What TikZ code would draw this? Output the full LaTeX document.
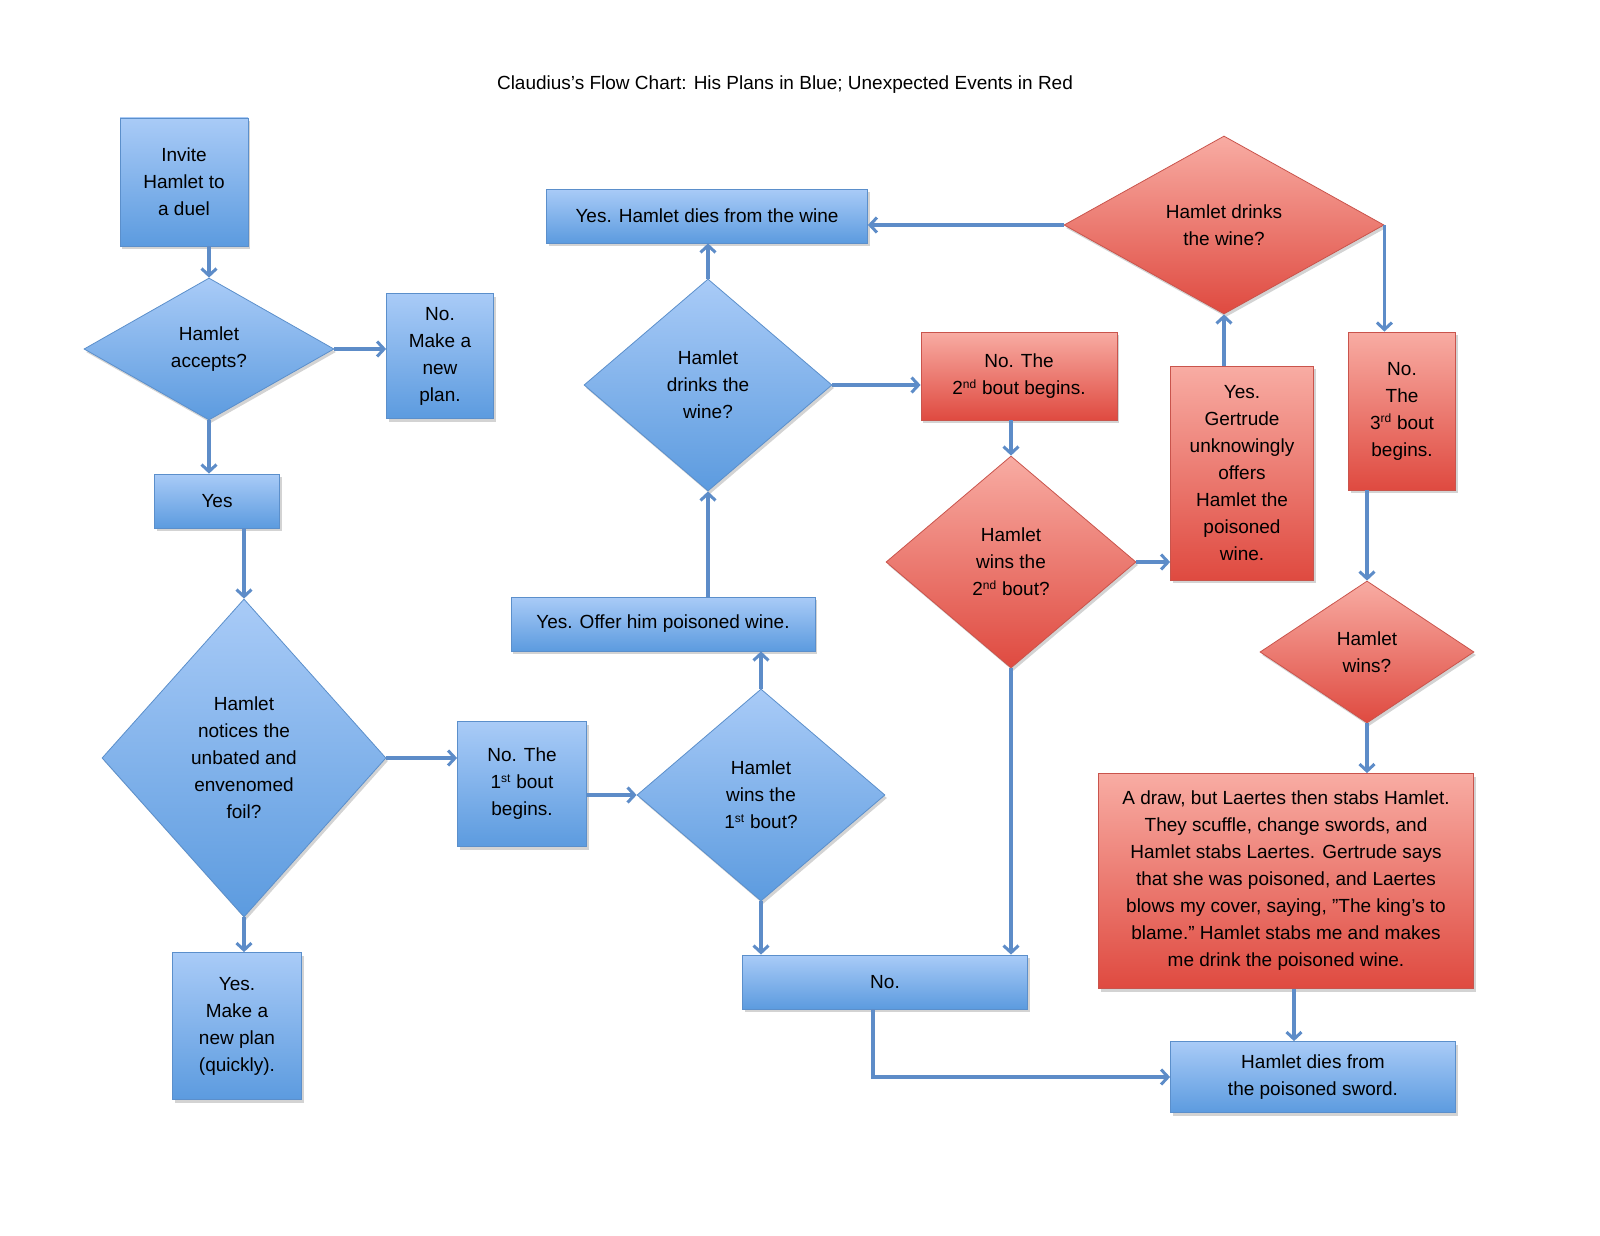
\documentclass[tikz,border=0pt]{standalone}
\usepackage{fontspec}
\setmainfont{Liberation Sans}
\usetikzlibrary{shapes.geometric,arrows.meta,shadows}
\definecolor{btop}{HTML}{A9CBF7}\definecolor{bbot}{HTML}{5C9BDF}\definecolor{bdr}{HTML}{5B8FCB}
\definecolor{rtop}{HTML}{F8ACA3}\definecolor{rbot}{HTML}{DF4A40}\definecolor{rdr}{HTML}{C9544C}
\definecolor{arr}{HTML}{5D8CC8}
\tikzset{
 x=1pt,y=-1pt,
 base/.style={font=\fontsize{19}{27}\selectfont,align=center,inner sep=0pt,
   drop shadow={shadow xshift=2pt,shadow yshift=-3pt,opacity=.35}},
 brect/.style={base,rectangle,draw=bdr,line width=.8pt,top color=btop,bottom color=bbot},
 rrect/.style={base,rectangle,draw=rdr,line width=.8pt,top color=rtop,bottom color=rbot},
 bdia/.style={base,diamond,draw=bdr,line width=.8pt,top color=btop,bottom color=bbot},
 rdia/.style={base,diamond,draw=rdr,line width=.8pt,top color=rtop,bottom color=rbot},
 txt/.style={font=\fontsize{19}{27}\selectfont,align=center,inner sep=0pt},
 ar/.style={draw=arr,line width=3.2pt,-{Straight Barb[length=7pt,width=15pt,line width=3pt]}},
}
\newcommand{\sps}[1]{\textsuperscript{\fontsize{12}{12}\selectfont #1}}
\begin{document}
\begin{tikzpicture}
\useasboundingbox (0,0) rectangle (1600,1236);
\node[txt] (title) at (785,85) {Claudius's Flow Chart: His Plans in Blue; Unexpected Events in Red};
% blue boxes
\node[brect,minimum width=128,minimum height=128] (inv) at (184,182) {Invite\\Hamlet to\\a duel};
\node[brect,minimum width=107,minimum height=125] (nomk) at (440,356) {No.\\Make a\\new\\plan.};
\node[brect,minimum width=125,minimum height=54] (yes1) at (217,501) {Yes};
\node[brect,minimum width=129,minimum height=147] (yq) at (237,1026) {Yes.\\Make a\\new plan\\(quickly).};
\node[brect,minimum width=129,minimum height=125] (n1) at (522,784) {No. The\\1\sps{st} bout\\begins.};
\node[brect,minimum width=304,minimum height=54] (off) at (663,624) {Yes. Offer him poisoned wine.};
\node[brect,minimum width=321,minimum height=54] (dw) at (707,216) {Yes. Hamlet dies from the wine};
\node[brect,minimum width=285,minimum height=54] (no) at (885,982) {No.};
\node[brect,minimum width=285,minimum height=71] (ds) at (1313,1077) {Hamlet dies from\\the poisoned sword.};
% red boxes
\node[rrect,minimum width=196,minimum height=88] (n2) at (1019,376) {No. The\\2\sps{nd} bout begins.};
\node[rrect,minimum width=143,minimum height=214] (ger) at (1242,473) {Yes.\\Gertrude\\unknowingly\\offers\\Hamlet the\\poisoned\\wine.};
\node[rrect,minimum width=107,minimum height=158] (n3) at (1402,411) {No.\\The\\3\sps{rd} bout\\begins.};
\node[rrect,minimum width=375,minimum height=215] (dr) at (1286,881) {A draw, but Laertes then stabs Hamlet.\\They scuffle, change swords, and\\Hamlet stabs Laertes. Gertrude says\\that she was poisoned, and Laertes\\blows my cover, saying, "The king's to\\blame." Hamlet stabs me and makes\\me drink the poisoned wine.};
% diamonds
\node[bdia,minimum width=250,minimum height=142] (acc) at (209,349) {};
\node[txt] at (acc) {Hamlet\\accepts?};
\node[bdia,minimum width=284,minimum height=318] (not) at (244,758) {};
\node[txt] at (not) {Hamlet\\notices the\\unbated and\\envenomed\\foil?};
\node[bdia,minimum width=248,minimum height=212] (w1) at (761,795) {};
\node[txt] at (w1) {Hamlet\\wins the\\1\sps{st} bout?};
\node[bdia,minimum width=248,minimum height=212] (d1) at (708,385) {};
\node[txt] at (d1) {Hamlet\\drinks\ the\\wine?};
\node[rdia,minimum width=250,minimum height=212] (w2) at (1011,562) {};
\node[txt] at (w2) {Hamlet\\wins the\\2\sps{nd} bout?};
\node[rdia,minimum width=320,minimum height=178] (d2) at (1224,225) {};
\node[txt] at (d2) {Hamlet drinks\\the wine?};
\node[rdia,minimum width=214,minimum height=142] (w3) at (1367,652) {};
\node[txt] at (w3) {Hamlet\\wins?};
% arrows
\draw[ar] (inv.south -| acc.north) -- (acc.north);
\draw[ar] (acc.east) -- (acc.east -| nomk.west);
\draw[ar] (acc.south) -- (acc.south |- yes1.north);
\draw[ar] (yes1.south -| not.north) -- (not.north);
\draw[ar] (not.east) -- (not.east -| n1.west);
\draw[ar] (not.south) -- (yq.north -| not.south);
\draw[ar] (n1.east |- w1.west) -- (w1.west);
\draw[ar] (w1.north) -- (off.south -| w1.north);
\draw[ar] (off.north -| d1.south) -- (d1.south);
\draw[ar] (d1.north) -- (dw.south -| d1.north);
\draw[ar] (d1.east) -- (d1.east -| n2.west);
\draw[ar] (n2.south -| w2.north) -- (w2.north);
\draw[ar] (w2.east) -- (w2.east -| ger.west);
\draw[ar] (ger.north -| d2.south) -- (d2.south);
\draw[ar] (d2.west) -- (d2.west -| dw.east);
\draw[ar] (d2.east) -- (d2.east |- n3.north);
\draw[ar] (n3.south -| w3.north) -- (w3.north);
\draw[ar] (w3.south) -- (w3.south |- dr.north);
\draw[ar] (w1.south) -- (w1.south |- no.north);
\draw[ar] (w2.south) -- (w2.south |- no.north);
\coordinate (b2) at (1294,989);
\draw[ar] (dr.south -| b2) -- (ds.north -| b2);
\coordinate (c1) at (873,1009);
\draw[ar] (no.south -| c1) -- (c1 |- ds.west) -- (ds.west);
\end{tikzpicture}
\end{document}
